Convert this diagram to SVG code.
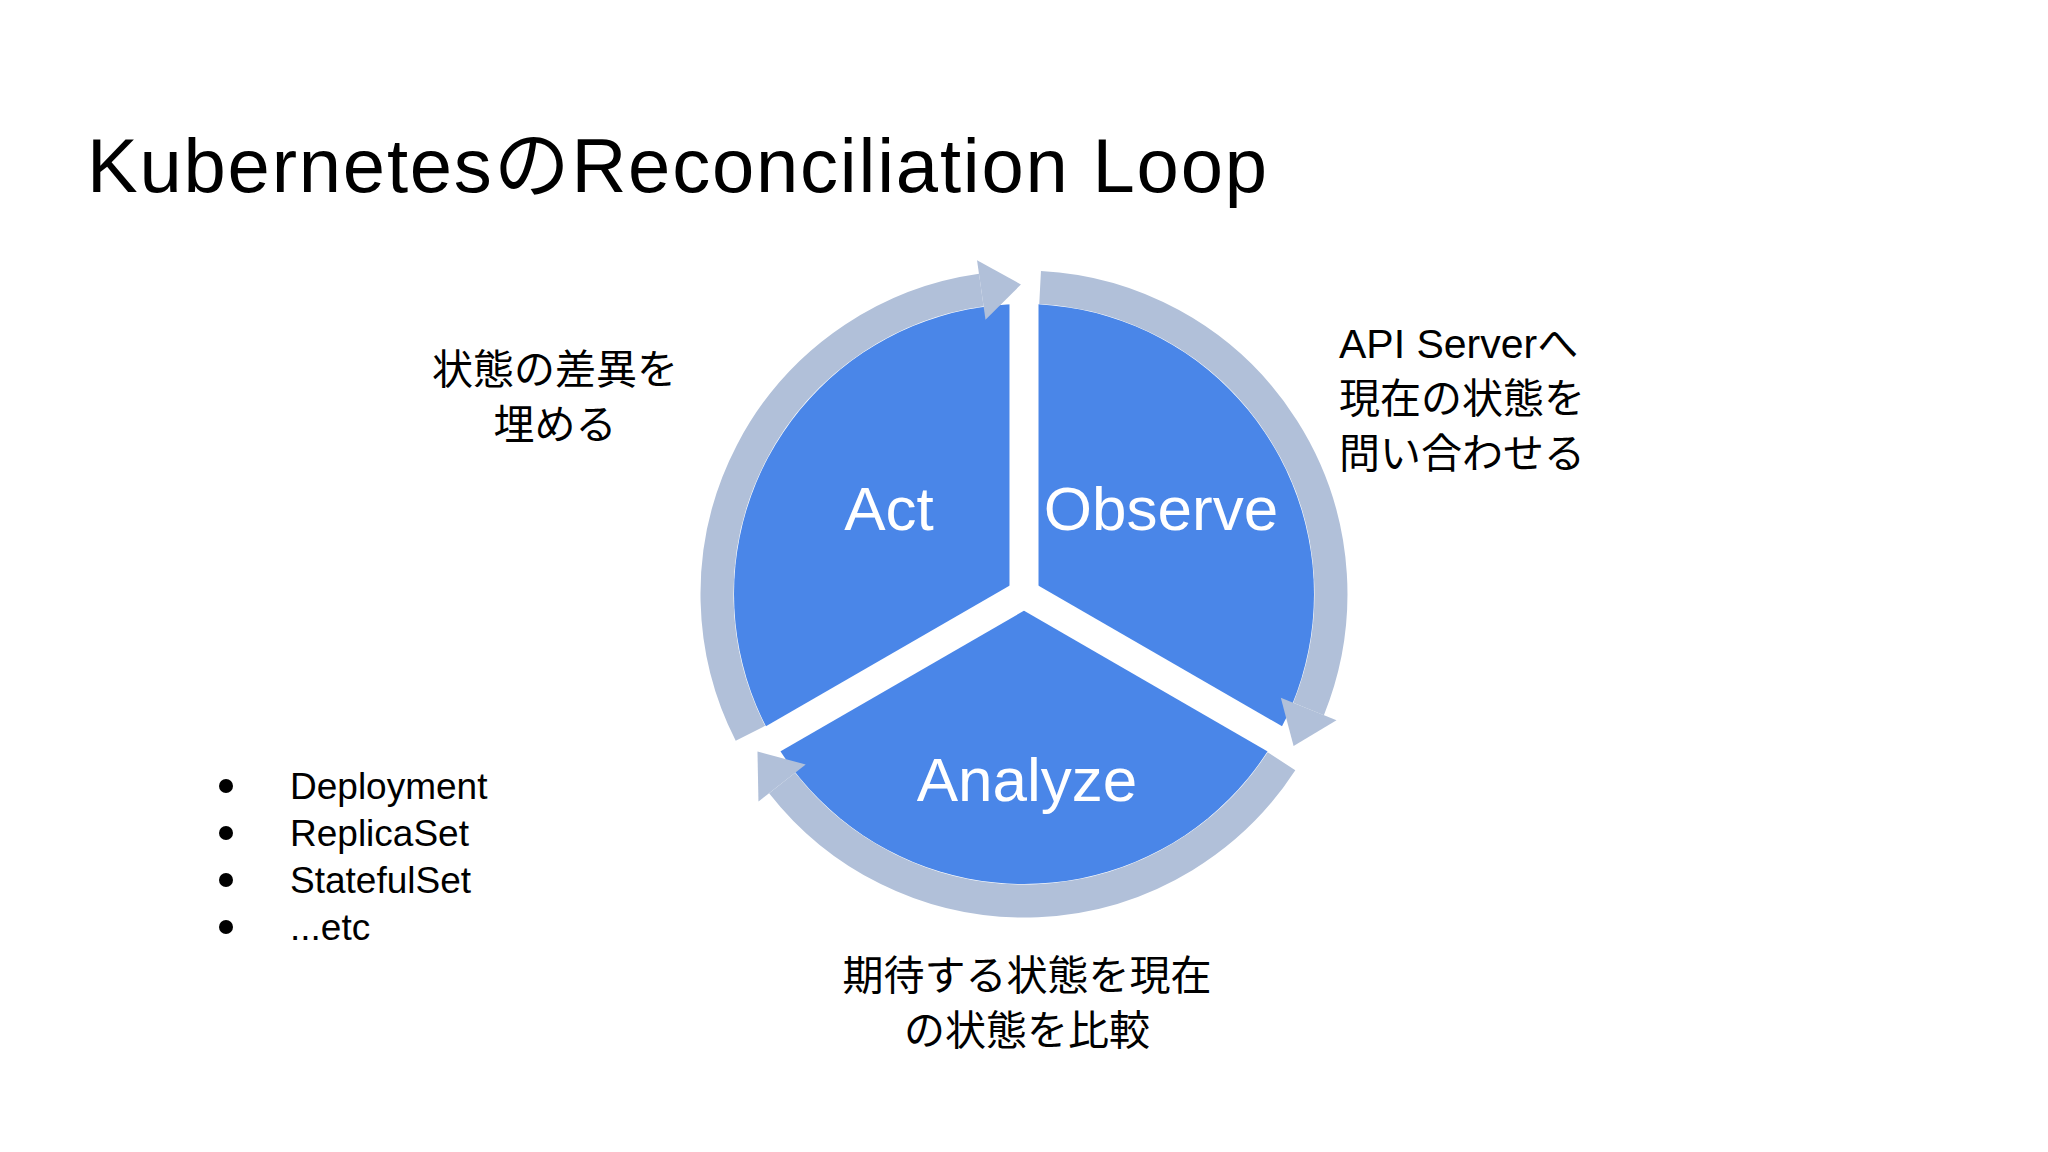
<svg xmlns="http://www.w3.org/2000/svg" width="2048" height="1152" viewBox="0 0 2048 1152">
<style>
.t{font-family:"Liberation Sans","Noto Sans CJK JP",sans-serif;fill:#000}
.w{font-family:"Liberation Sans",sans-serif;fill:#fff;font-size:62px;text-anchor:middle}
.j{font-family:"Liberation Sans","Noto Sans CJK JP",sans-serif;font-size:41px;fill:#000}
.ring{fill:none;stroke:#B1C0D9;stroke-width:33}
.head{fill:#B1C0D9}
</style>
<rect width="2048" height="1152" fill="#fff"/>
<text class="t" x="87" y="192" font-size="76" textLength="1180">KubernetesのReconciliation Loop</text>
<g id="pie">
<circle cx="1024" cy="594" r="290" fill="#4A86E8"/>
<g stroke="#fff" stroke-width="29">
<line x1="1024" y1="594" x2="1024" y2="280"/>
<line x1="1024" y1="594" x2="1296" y2="751"/>
<line x1="1024" y1="594" x2="752" y2="751"/>
</g>
</g>
<g id="connectors">
<g id="arc1"><path class="ring" d="M1040.1 287.4 A307 307 0 0 1 1308.6 709"/><polygon class="head" points="1280.8,697.8 1336.5,720.2 1293.6,746.1"/></g>
<g id="arc2" transform="rotate(120 1024 594)"><path class="ring" d="M1040.1 287.4 A307 307 0 0 1 1308.6 709"/><polygon class="head" points="1280.8,697.8 1336.5,720.2 1293.6,746.1"/></g>
<g id="arc3" transform="rotate(240 1024 594)"><path class="ring" d="M1040.1 287.4 A307 307 0 0 1 1308.6 709"/><polygon class="head" points="1280.8,697.8 1336.5,720.2 1293.6,746.1"/></g>
</g>
<g id="act"><text class="w" x="889" y="530">Act</text></g>
<g id="observe"><text class="w" x="1161" y="530">Observe</text></g>
<g id="analyze"><text class="w" x="1027" y="801">Analyze</text></g>
<g id="observe-note"><text class="j" x="1339" y="358">API Serverへ</text><text class="j" x="1339" y="413">現在の状態を</text><text class="j" x="1339" y="468">問い合わせる</text></g>
<g id="act-note" text-anchor="middle"><text class="j" x="555" y="384">状態の差異を</text><text class="j" x="555" y="439">埋める</text></g>
<g id="analyze-note" text-anchor="middle"><text class="j" x="1027" y="990">期待する状態を現在</text><text class="j" x="1027" y="1045">の状態を比較</text></g>
<g id="list" class="t" font-size="37">
<circle cx="226" cy="786" r="7"/><text x="290" y="799">Deployment</text>
<circle cx="226" cy="833" r="7"/><text x="290" y="846">ReplicaSet</text>
<circle cx="226" cy="880" r="7"/><text x="290" y="893">StatefulSet</text>
<circle cx="226" cy="927" r="7"/><text x="290" y="940">...etc</text>
</g>
</svg>
